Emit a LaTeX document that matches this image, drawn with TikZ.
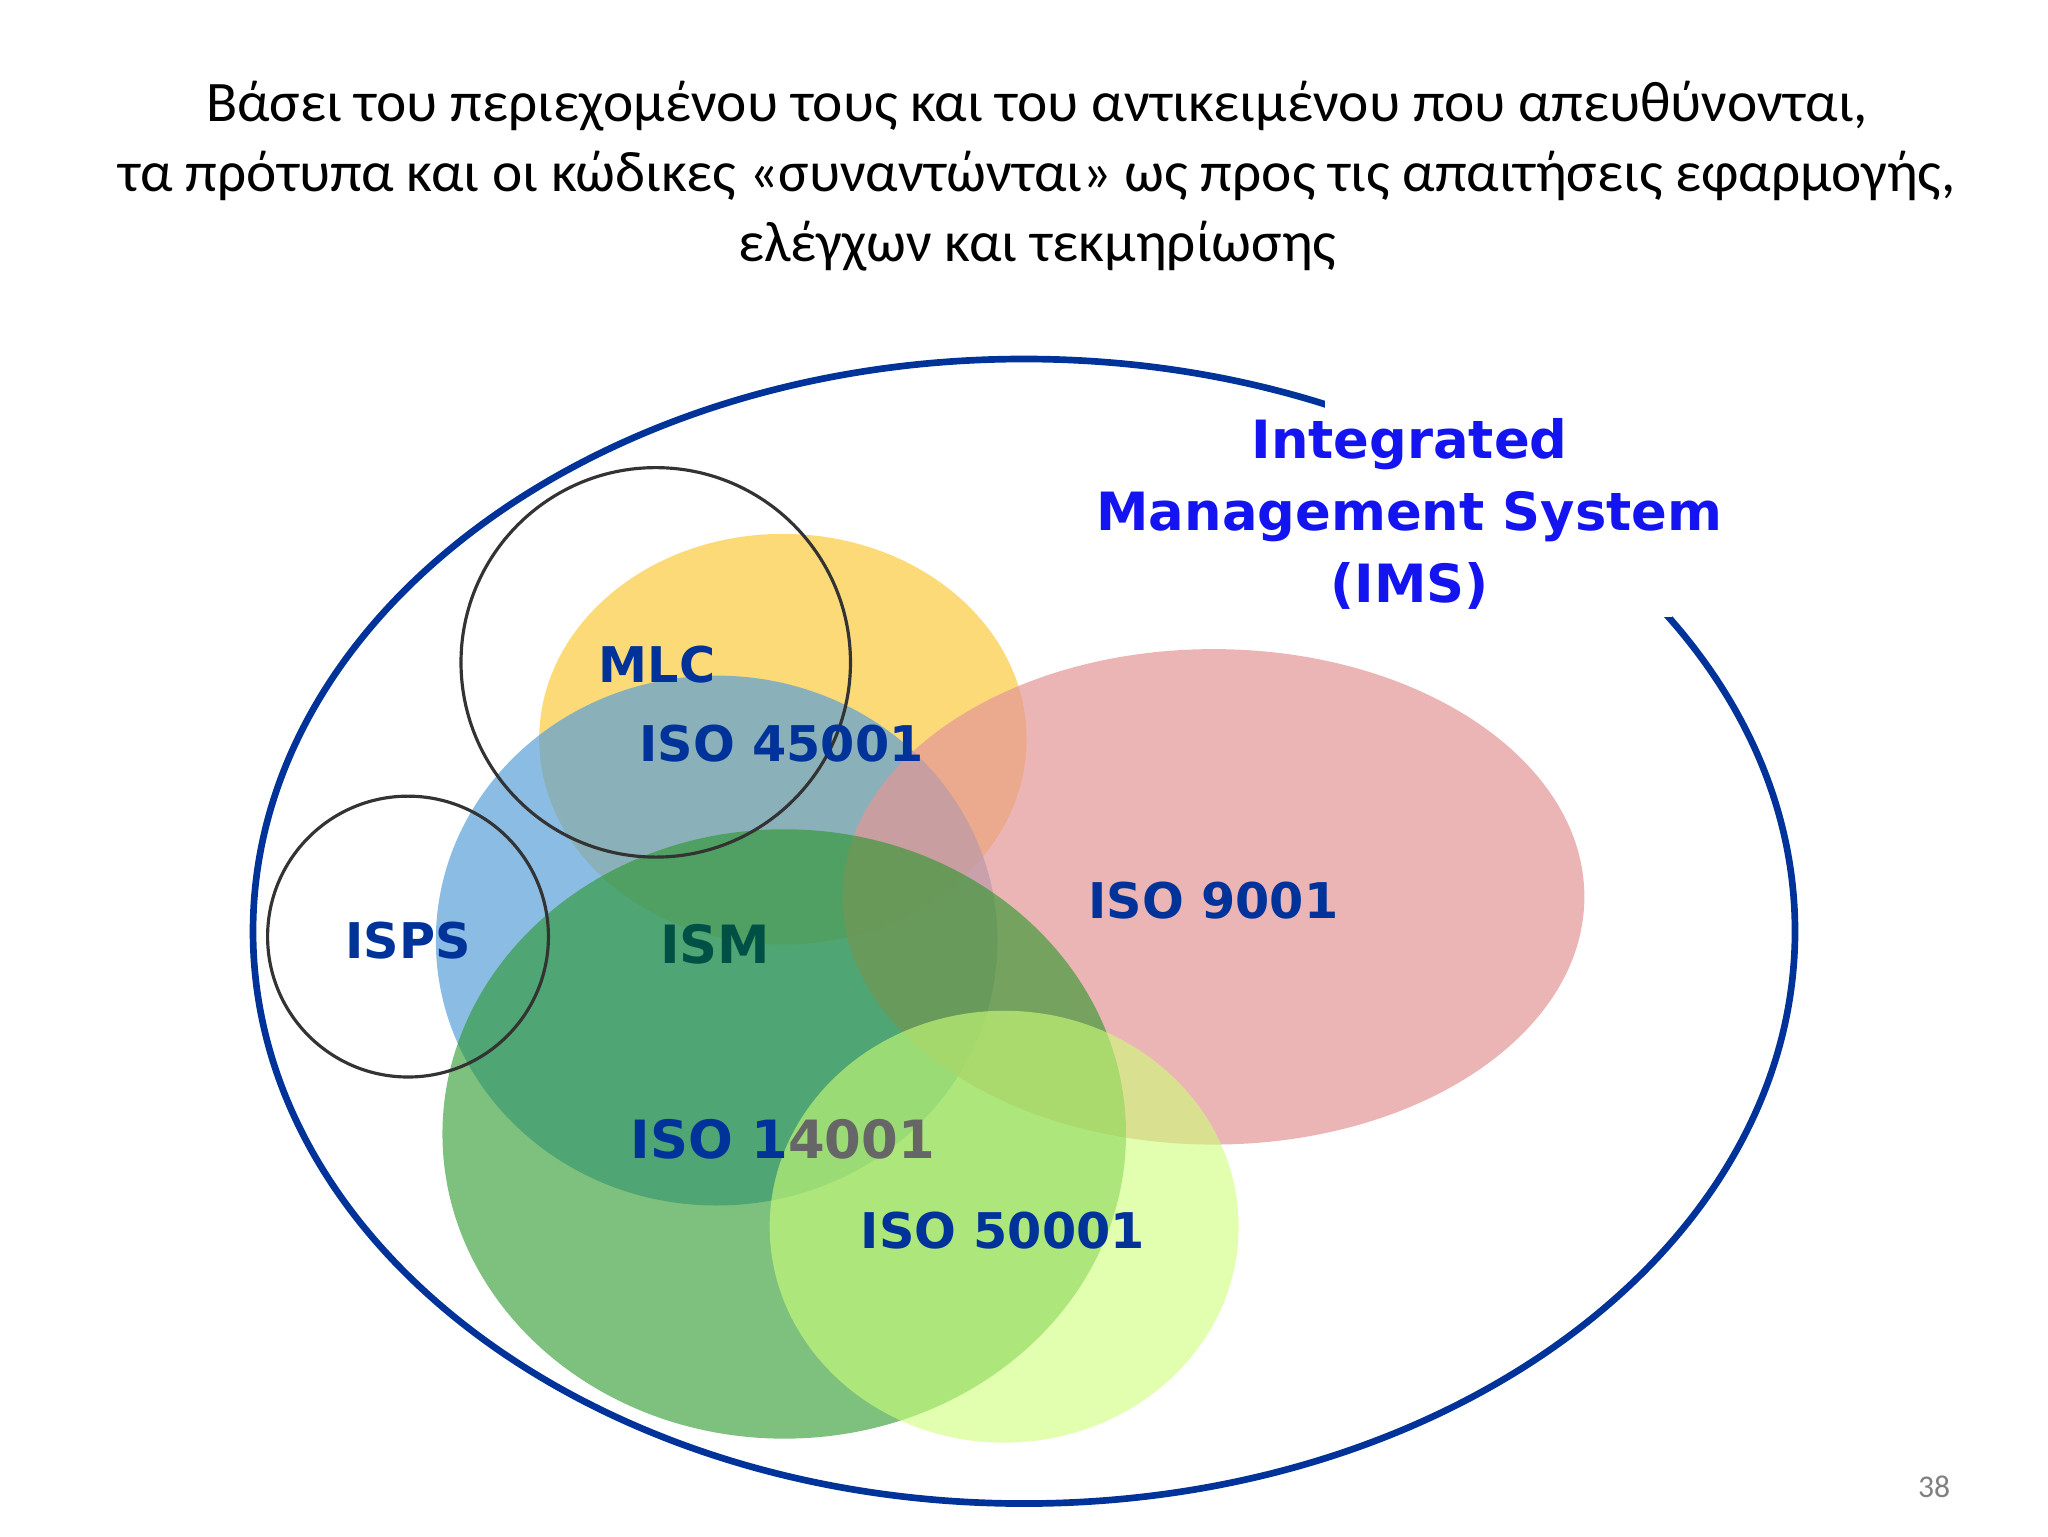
\documentclass[tikz,border=0pt]{standalone}
\usepackage{fontspec}
\setmainfont{Carlito}
\newfontfamily\lbl{DejaVu Sans}
\definecolor{dblue}{RGB}{0,51,153}
\definecolor{tblue}{RGB}{20,20,240}
\definecolor{cyel}{RGB}{253,218,120}
\definecolor{cblu}{RGB}{90,160,215}
\definecolor{cred}{RGB}{228,150,150}
\definecolor{cgrn}{RGB}{40,150,40}
\definecolor{clgr}{RGB}{205,255,120}
\definecolor{cteal}{RGB}{0,80,70}
\tikzset{lab/.style={font=\lbl\bfseries\fontsize{14}{16}\selectfont,text=dblue},
 blob/.style={draw=none,fill opacity=0.7}}
\begin{document}
\begin{tikzpicture}[x=0.013247cm,y=-0.013247cm]
\useasboundingbox (0,0) rectangle (1546,1160);
\node[align=center,font=\fontsize{16.3}{19.8}\selectfont] (title) at (783,133)
 {Βάσει του περιεχομένου τους και του αντικειμένου που απευθύνονται,\\
  τα πρότυπα και οι κώδικες «συναντώνται» ως προς τις απαιτήσεις εφαρμογής,\\
  ελέγχων και τεκμηρίωσης};
\draw[dblue,line width=1.9pt] (773,703) ellipse [x radius=582,y radius=432];
\fill[white] (1000,296) rectangle (1262,466);
\node[align=center,font=\lbl\bfseries\fontsize{15}{20.5}\selectfont,text=tblue] (ims) at (1064,388)
 {Integrated\\Management System\\(IMS)};
\fill[cyel,blob,fill opacity=1] (591,558) ellipse [x radius=184,y radius=155];
\fill[cblu,blob] (541,710) ellipse [x radius=212,y radius=200];
\fill[cred,blob] (916,677) ellipse [x radius=280,y radius=187];
\fill[cgrn,blob,fill opacity=0.6] (592,856) ellipse [x radius=258,y radius=230];
\fill[clgr,blob,fill opacity=0.6] (758,926) ellipse [x radius=177,y radius=163];
\draw[black!80,line width=0.9pt] (495,500) circle [radius=147];
\draw[black!80,line width=0.9pt] (308,707) circle [radius=106];
\node[lab] (mlc) at (496,502) {MLC};
\node[lab] (iso45) at (590,561) {ISO 45001};
\node[lab] (isps) at (308,710) {ISPS};
\node[lab,text=cteal,font=\lbl\bfseries\fontsize{15}{17}\selectfont] (ism) at (540,713) {ISM};
\node[lab] (iso9) at (916,680) {ISO 9001};
\node[lab,font=\lbl\bfseries\fontsize{15}{17}\selectfont] (iso14) at (591,860) {ISO 1\textcolor{gray!80!black}{4001}};
\node[lab] (iso50) at (757,929) {ISO 50001};
\node[text=gray,font=\fontsize{9}{10}\selectfont] (pg) at (1460,1122) {38};
\end{tikzpicture}
\end{document}
